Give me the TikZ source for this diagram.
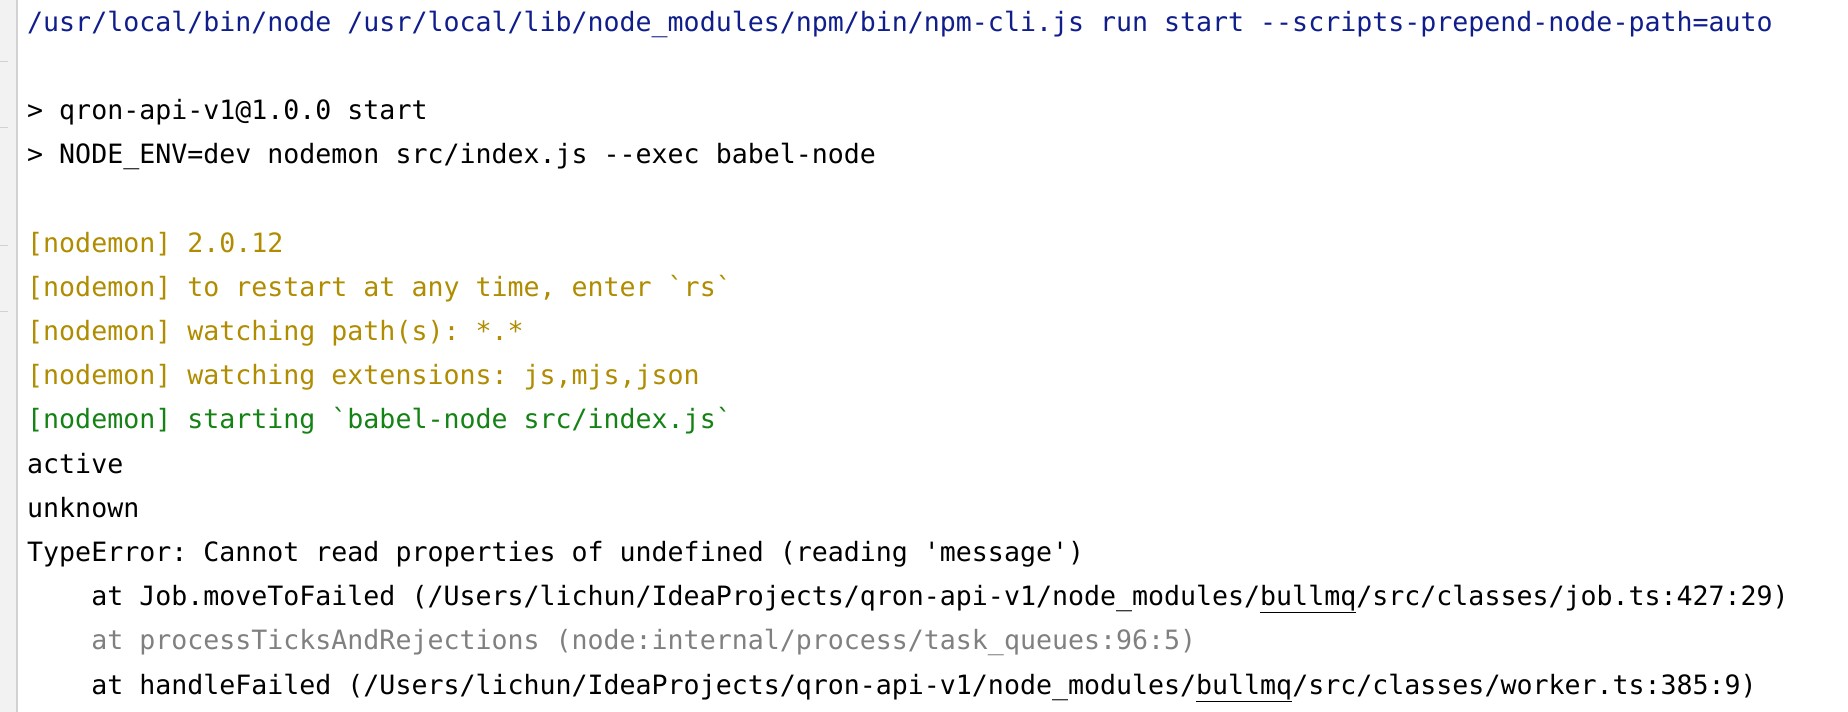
\documentclass[tikz,border=0pt]{standalone}
\usepackage{fontspec}
\setmonofont{DejaVu Sans Mono}
\definecolor{cmdblue}{RGB}{16,30,140}
\definecolor{nmyellow}{RGB}{176,140,0}
\definecolor{nmgreen}{RGB}{20,130,20}
\definecolor{tgray}{RGB}{128,128,128}
\definecolor{gutter}{RGB}{242,242,242}
\definecolor{gline}{RGB}{210,210,210}
\begin{document}
\begin{tikzpicture}[x=1pt,y=-1pt,
  ln/.style={anchor=base west,inner sep=0pt,font=\ttfamily\fontsize{26.6pt}{30pt}\selectfont}]
\useasboundingbox (0,0) rectangle (1848,712);
\fill[white] (0,0) rectangle (1848,712);
\fill[gutter] (0,0) rectangle (17,712);
\draw[gline,line width=1.5pt] (17,0) -- (17,712);
\foreach \y in {61,127,245,311} \draw[gline,line width=1pt] (0,\y) -- (8,\y);
\def\bl#1{31+44.2*#1}
\node[ln,text=cmdblue] (l0) at (27,{\bl0}) {/usr/local/bin/node /usr/local/lib/node\_modules/npm/bin/npm-cli.js run start --scripts-prepend-node-path=auto};
\node[ln] (l2) at (27,{\bl2}) {> qron-api-v1@1.0.0 start};
\node[ln] (l3) at (27,{\bl3}) {> NODE\_ENV=dev nodemon src/index.js --exec babel-node};
\node[ln,text=nmyellow] (l5) at (27,{\bl5}) {[nodemon] 2.0.12};
\node[ln,text=nmyellow] (l6) at (27,{\bl6}) {[nodemon] to restart at any time, enter `rs`};
\node[ln,text=nmyellow] (l7) at (27,{\bl7}) {[nodemon] watching path(s): *.*};
\node[ln,text=nmyellow] (l8) at (27,{\bl8}) {[nodemon] watching extensions: js,mjs,json};
\node[ln,text=nmgreen] (l9) at (27,{\bl9}) {[nodemon] starting `babel-node src/index.js`};
\node[ln] (l10) at (27,{\bl{10}}) {active};
\node[ln] (l11) at (27,{\bl{11}}) {unknown};
\node[ln] (l12) at (27,{\bl{12}}) {TypeError: Cannot read properties of undefined (reading 'message')};
\node[ln] (l13) at (27,{\bl{13}}) {\ \ \ \ at Job.moveToFailed (/Users/lichun/IdeaProjects/qron-api-v1/node\_modules/\underline{bullmq}/src/classes/job.ts:427:29)};
\node[ln,text=tgray] (l14) at (27,{\bl{14}}) {\ \ \ \ at processTicksAndRejections (node:internal/process/task\_queues:96:5)};
\node[ln] (l15) at (27,{\bl{15}}) {\ \ \ \ at handleFailed (/Users/lichun/IdeaProjects/qron-api-v1/node\_modules/\underline{bullmq}/src/classes/worker.ts:385:9)};
\end{tikzpicture}
\end{document}
